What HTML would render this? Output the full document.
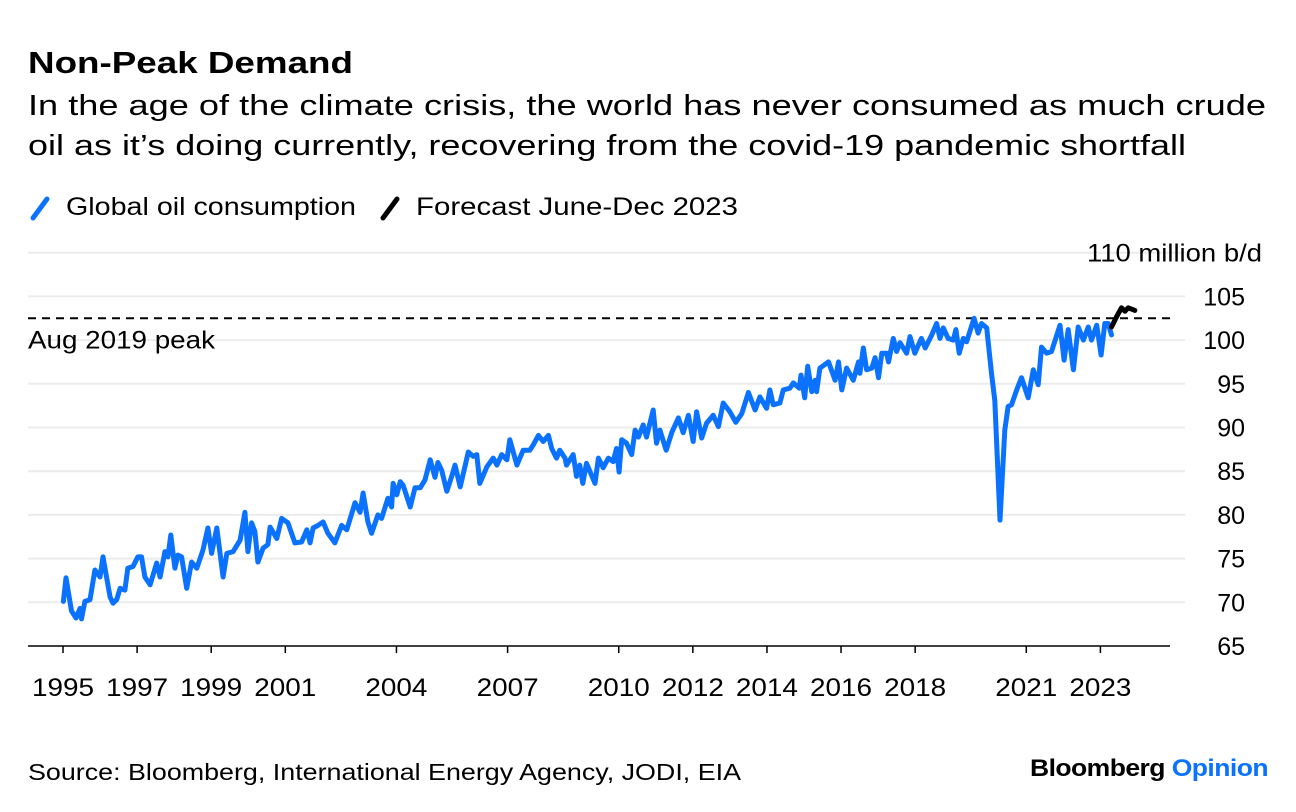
<!DOCTYPE html>
<html><head><meta charset="utf-8"><style>
body{margin:0;background:#fff;width:1296px;height:812px;overflow:hidden;font-family:"Liberation Sans",sans-serif;color:#000}
svg{position:absolute;left:0;top:0}
</style></head><body>
<svg width="1296" height="812">
<text x="28" y="73" font-size="31" font-weight="bold" textLength="325" lengthAdjust="spacingAndGlyphs">Non-Peak Demand</text>
<text x="28" y="115" font-size="29" textLength="1238" lengthAdjust="spacingAndGlyphs">In the age of the climate crisis, the world has never consumed as much crude</text>
<text x="28" y="155" font-size="29" textLength="1158" lengthAdjust="spacingAndGlyphs">oil as it’s doing currently, recovering from the covid-19 pandemic shortfall</text>
<g>
<line x1="33" y1="218" x2="47" y2="199" stroke="#0a72ff" stroke-width="5" stroke-linecap="round"/>
<text x="66" y="215" font-size="25" textLength="290" lengthAdjust="spacingAndGlyphs">Global oil consumption</text>
<line x1="383" y1="218" x2="397" y2="199" stroke="#000" stroke-width="5" stroke-linecap="round"/>
<text x="416" y="215" font-size="25" textLength="322" lengthAdjust="spacingAndGlyphs">Forecast June-Dec 2023</text>
</g>
<g id="grid"></g><g id="axes"></g><g id="marks"></g>
<text x="28" y="780" font-size="23" textLength="713" lengthAdjust="spacingAndGlyphs">Source: Bloomberg, International Energy Agency, JODI, EIA</text>
<text x="1030" y="776" font-size="24" font-weight="bold" textLength="238" lengthAdjust="spacingAndGlyphs" letter-spacing="-0.5">Bloomberg <tspan fill="#0a72ff">Opinion</tspan></text>
</svg>
<script>
const yTicks=[65,70,75,80,85,90,95,100,105,110];
const xTickYears=[1995,1997,1999,2001,2004,2007,2010,2012,2014,2016,2018,2021,2023];
const peakValue=102.5;
const years=[1995.01,1995.08,1995.23,1995.35,1995.46,1995.50,1995.59,1995.73,1995.86,1996.00,1996.08,1996.27,1996.35,1996.45,1996.54,1996.67,1996.75,1996.89,1997.02,1997.12,1997.21,1997.35,1997.53,1997.62,1997.75,1997.83,1997.91,1998.02,1998.10,1998.20,1998.34,1998.47,1998.61,1998.78,1998.91,1999.01,1999.15,1999.32,1999.42,1999.59,1999.78,1999.91,1999.99,2000.09,2000.18,2000.26,2000.40,2000.53,2000.59,2000.77,2000.90,2001.07,2001.26,2001.44,2001.58,2001.67,2001.75,2001.88,2002.02,2002.15,2002.34,2002.52,2002.66,2002.88,2003.02,2003.10,2003.23,2003.33,2003.50,2003.60,2003.77,2003.87,2003.91,2004.01,2004.10,2004.18,2004.37,2004.50,2004.64,2004.77,2004.91,2005.04,2005.12,2005.22,2005.36,2005.49,2005.58,2005.72,2005.94,2006.07,2006.17,2006.25,2006.44,2006.61,2006.71,2006.84,2006.98,2007.06,2007.25,2007.42,2007.60,2007.69,2007.83,2007.96,2008.10,2008.19,2008.32,2008.41,2008.55,2008.59,2008.77,2008.86,2008.95,2009.03,2009.13,2009.36,2009.45,2009.58,2009.72,2009.85,2009.94,2010.01,2010.08,2010.21,2010.35,2010.44,2010.53,2010.66,2010.75,2010.93,2011.02,2011.11,2011.28,2011.43,2011.61,2011.74,2011.88,2012.01,2012.10,2012.24,2012.37,2012.55,2012.69,2012.82,2013.00,2013.16,2013.32,2013.50,2013.68,2013.81,2013.99,2014.08,2014.17,2014.35,2014.44,2014.62,2014.71,2014.87,2014.92,2015.02,2015.10,2015.21,2015.30,2015.34,2015.43,2015.66,2015.84,2015.93,2016.02,2016.15,2016.33,2016.47,2016.51,2016.60,2016.69,2016.83,2016.92,2017.01,2017.10,2017.23,2017.28,2017.41,2017.50,2017.59,2017.77,2017.86,2017.99,2018.17,2018.27,2018.45,2018.58,2018.67,2018.76,2018.89,2019.03,2019.10,2019.19,2019.30,2019.39,2019.59,2019.70,2019.79,2019.93,2020.06,2020.15,2020.29,2020.42,2020.51,2020.60,2020.74,2020.87,2021.05,2021.19,2021.32,2021.41,2021.55,2021.68,2021.91,2022.02,2022.13,2022.27,2022.40,2022.54,2022.67,2022.76,2022.90,2023.02,2023.12,2023.21,2023.30];
const consumption=[70.1,72.8,69.0,68.2,69.3,68.1,70.1,70.3,73.7,72.9,75.2,70.6,69.9,70.3,71.6,71.4,73.9,74.1,75.2,75.2,72.9,72.0,74.5,72.9,75.8,75.2,77.7,73.9,75.4,75.2,71.6,74.6,73.9,76.0,78.5,75.6,78.5,72.9,75.6,75.8,77.1,80.3,75.8,79.1,78.1,74.6,76.2,76.6,78.6,77.3,79.6,79.1,76.8,76.9,78.3,76.8,78.5,78.8,79.2,77.9,76.8,78.8,78.3,81.4,80.3,82.5,79.2,77.9,80.0,79.6,81.9,80.9,83.6,82.3,83.8,83.4,80.9,83.1,83.1,84.0,86.3,84.3,86.0,85.1,82.7,84.4,85.7,83.2,87.2,86.7,86.9,83.6,85.5,86.5,85.7,86.9,86.3,88.6,85.7,87.4,87.4,88.0,89.1,88.4,89.1,87.6,86.5,87.4,86.5,85.7,86.9,84.4,85.7,83.6,85.9,83.6,86.5,85.4,86.5,86.1,87.6,84.9,88.6,88.2,86.9,89.7,88.9,90.3,88.9,92.0,88.2,89.7,87.4,89.4,91.1,89.4,91.4,88.4,91.8,88.8,90.5,91.4,90.1,92.8,91.8,90.6,91.6,94.0,92.0,93.5,92.2,94.3,92.6,92.8,94.3,94.5,95.1,94.5,96.0,93.4,97.0,94.1,95.4,94.1,96.8,97.5,95.4,97.5,94.3,96.8,95.4,97.5,96.2,99.1,96.6,96.8,98.0,95.7,98.5,98.5,97.5,100.2,98.7,99.7,98.5,100.4,98.5,100.2,99.1,100.6,101.9,100.2,101.4,100.2,100.0,101.2,98.5,100.2,99.8,102.5,100.8,101.9,101.4,96.2,93.1,79.4,89.7,92.4,92.6,94.3,95.7,93.4,96.6,94.9,99.2,98.5,98.7,101.7,97.7,101.2,96.6,101.5,100.0,101.5,100.0,101.7,98.3,101.9,101.9,100.6];
const forecastYears=[2023.30,2023.44,2023.57,2023.66,2023.75,2023.93];
const forecast=[101.5,102.7,103.7,103.3,103.7,103.4];

const NS="http://www.w3.org/2000/svg";
const X=y=>63+(y-1995)*37.05;
const Y=v=>646-(v-65)*8.74;
function mk(tag,attrs,parent,txt){const e=document.createElementNS(NS,tag);for(const k in attrs)e.setAttribute(k,attrs[k]);if(txt!==undefined)e.textContent=txt;parent.appendChild(e);return e;}
const grid=document.getElementById('grid'),axes=document.getElementById('axes'),marks=document.getElementById('marks');
yTicks.forEach(t=>{
  if(t>65){const l=mk('line',{x1:28,x2:1185,y1:Y(t),y2:Y(t),stroke:'#ececec','stroke-width':2},grid);
  
  }
  const big=t===110;
  const tx=mk('text',big?{x:1087,y:Y(t)+9,'font-size':25,textLength:175,lengthAdjust:'spacingAndGlyphs'}:{x:1245,y:Y(t)+9,'font-size':25,'text-anchor':'end'},axes,big?'110 million b/d':String(t));
  
  
});
const base=mk('line',{x1:28,x2:1170,y1:646,y2:646,stroke:'#000','stroke-width':1.5},axes);


xTickYears.forEach(yr=>{
  const tk=mk('line',{x1:X(yr),x2:X(yr),y1:646,y2:653,stroke:'#000','stroke-width':1.5},axes);
  
  
  const tx=mk('text',{x:X(yr)-31,y:696,'font-size':25,textLength:62,lengthAdjust:'spacingAndGlyphs'},axes,String(yr));
  
  
});
const pk=mk('line',{x1:28,x2:1170,y1:Y(peakValue),y2:Y(peakValue),stroke:'#000','stroke-width':2,'stroke-dasharray':'8,6'},marks);


const pl=mk('text',{x:28,y:Y(peakValue)+30,'font-size':25,textLength:187,lengthAdjust:'spacingAndGlyphs'},marks,'Aug 2019 peak');


const d1=years.map((y,i)=>(i?'L':'M')+X(y).toFixed(1)+','+Y(consumption[i]).toFixed(1)).join('');
const p1=mk('path',{d:d1,fill:'none',stroke:'#0a72ff','stroke-width':5,'stroke-linejoin':'round','stroke-linecap':'round'},marks);


const d2=forecastYears.map((y,i)=>(i?'L':'M')+X(y).toFixed(1)+','+Y(forecast[i]).toFixed(1)).join('');
const p2=mk('path',{d:d2,fill:'none',stroke:'#000','stroke-width':5,'stroke-linejoin':'round','stroke-linecap':'round'},marks);


</script>
</body></html>
